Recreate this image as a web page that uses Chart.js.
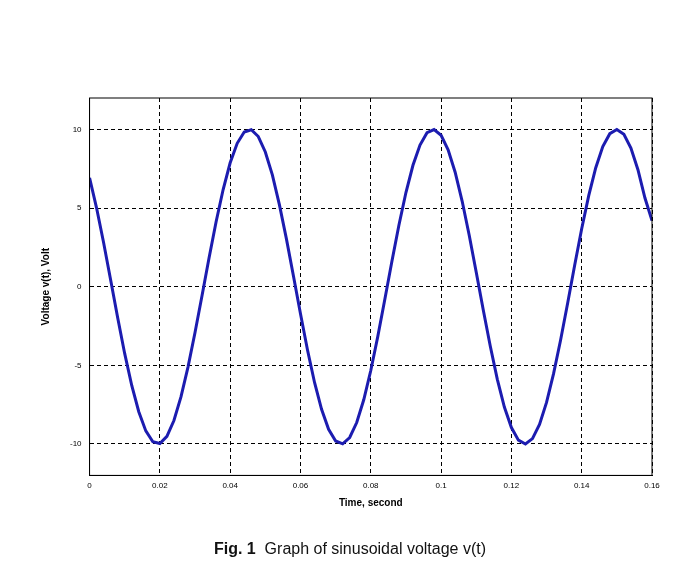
<!DOCTYPE html>
<html><head><meta charset="utf-8">
<script src="https://cdn.jsdelivr.net/npm/chart.js@4/dist/chart.umd.min.js"></script>
<style>
html,body{margin:0;padding:0;background:#fff;}
#wrap{position:relative;width:700px;height:577px;}
#cap{position:absolute;left:0;width:700px;top:540px;text-align:center;font-family:"Liberation Sans",Arial,sans-serif;font-size:16px;color:#111;}
</style></head><body>
<div id="wrap"><canvas id="c" width="700" height="577"></canvas>
<div id="cap"><b>Fig. 1</b>&nbsp; Graph of sinusoidal voltage v(t)</div></div>
<script>
const timeStep = 0.002;
const voltage = [6.92,5.00,2.79,0.42,-1.98,-4.26,-6.28,-7.95,-9.17,-9.86,-9.97,-9.52,-8.51,-7.01,-5.11,-2.91,-0.56,1.84,4.13,6.18,7.88,9.12,9.84,9.98,9.55,8.57,7.11,5.22,3.04,0.68,-1.72,-4.02,-6.09,-7.80,-9.07,-9.81,-9.99,-9.59,-8.64,-7.19,-5.33,-3.16,-0.80,1.60,3.91,5.99,7.72,9.01,9.79,9.99,9.63,8.70,7.28,5.43,3.27,0.92,-1.48,-3.79,-5.89,-7.65,-8.96,-9.76,-10.0,-9.66,-8.76,-7.36,-5.53,-3.39,-1.05,1.36,3.68,5.79,7.57,8.91,9.73,10.0,9.69,8.82,7.44,5.64,4.20];
const xTicks = [0,0.02,0.04,0.06,0.08,0.1,0.12,0.14,0.16];
const yTicks = [-10,-5,0,5,10];
const pts = voltage.map((v,i)=>({x:+(i*timeStep).toFixed(3), y:v}));
const f = "'Liberation Sans', Arial, sans-serif";
const grid = {color:'#000',lineWidth:1,drawTicks:false};
const border = {display:true,color:'#000',width:1,dash:[4,3]};
new Chart(document.getElementById('c'),{
  type:'line',
  data:{datasets:[{data:pts,borderColor:'#1c1cb0',borderWidth:3,pointRadius:0,tension:0}]},
  options:{
    responsive:false,animation:false,
    layout:{padding:{left:36,right:48,top:98,bottom:64}},
    plugins:{legend:{display:false},tooltip:{enabled:false}},
    scales:{
      x:{type:'linear',min:0,max:0.16,
        afterBuildTicks:a=>{a.ticks=xTicks.map(v=>({value:v}));},
        grid:grid,border:border,
        ticks:{color:'#000',font:{family:f,size:8},padding:6,maxRotation:0,callback:v=>String(+v.toFixed(2))},
        title:{display:true,text:'Time, second',color:'#000',font:{family:f,size:10,weight:'bold'},padding:{top:0}}},
      y:{min:-12,max:12,
        afterBuildTicks:a=>{a.ticks=yTicks.map(v=>({value:v}));},
        grid:grid,border:border,
        ticks:{color:'#000',font:{family:f,size:8},padding:8},
        title:{display:true,text:'Voltage v(t), Volt',color:'#000',font:{family:f,size:10,weight:'bold'},padding:{bottom:10}}}
    }
  },
  plugins:[{id:'box',afterDraw(ch){const a=ch.chartArea,c=ch.ctx;c.save();c.strokeStyle='#000';c.lineWidth=1;c.setLineDash([]);c.strokeRect(a.left,a.top,a.right-a.left,a.bottom-a.top);c.restore();}}]
});
</script></body></html>
